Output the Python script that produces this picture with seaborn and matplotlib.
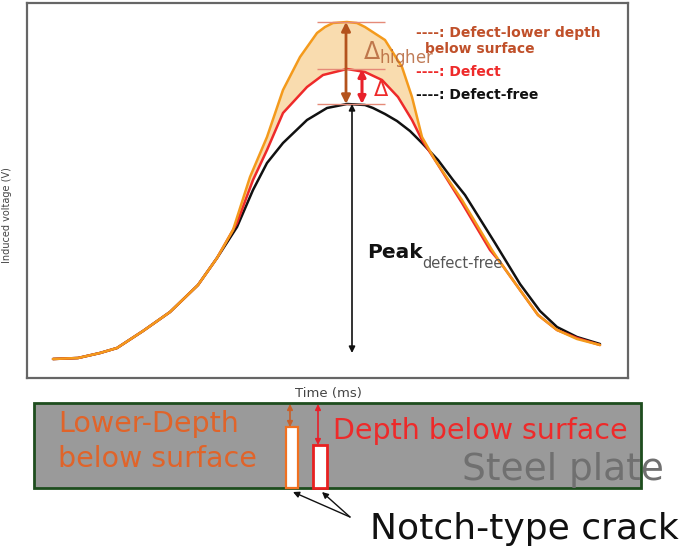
import numpy as np
import pandas as pd
import seaborn as sns
import matplotlib.pyplot as plt
from matplotlib.patches import Rectangle

# values (arbitrary units, no ticks in the original)
t_common = [26, 51, 73, 90, 116, 143, 171, 190]
v_common = [19, 20, 25, 30, 47, 66, 93, 120]

t_free = t_common + [210, 226, 240, 256, 280, 300, 320, 338, 346, 358, 370,
                     383, 395, 411, 426, 438, 468, 493, 513, 530, 550, 573]
v_free = v_common + [151, 188, 215, 235, 258, 270, 274, 273, 270, 264, 257,
                     247, 235, 218, 198, 183, 135, 94, 67, 51, 41, 34]

t_defect = t_common + [210, 226, 240, 256, 280, 296, 320, 338, 355, 371, 385,
                       395, 408, 435, 463, 473, 493, 511, 530, 550, 573]
v_defect = v_common + [155, 198, 228, 265, 291, 303, 309, 306, 298, 281, 258,
                       238, 218, 175, 128, 116, 88, 63, 48, 40, 33]

t_lower = t_common + [206, 223, 240, 256, 273, 290, 298, 306, 320, 330, 338,
                      358, 375, 385, 395, 408, 435, 465, 473, 493, 511, 530,
                      550, 573]
v_lower = v_common + [148, 201, 241, 288, 321, 345, 351, 355, 356, 355, 351,
                      338, 311, 281, 241, 218, 178, 128, 116, 88, 63, 48,
                      39, 33]

peak_t = 325
peaks = [max(v_lower), max(v_defect), max(v_free)]
cross_t = 408

df = pd.DataFrame({"t": t_free + t_defect + t_lower,
                   "v": v_free + v_defect + v_lower,
                   "kind": ["free"] * len(t_free) + ["defect"] * len(t_defect)
                   + ["lower"] * len(t_lower)})

sns.set_style("white")
plt.rcParams["font.family"] = ["DejaVu Sans"]

fig = plt.figure(figsize=(6.85, 5.51), dpi=100)
ax = fig.add_axes([27 / 685, 1 - 378 / 551, 601 / 685, 375 / 551])

# shaded band between the two defect curves, up to where they meet again
tl, vl = np.array(t_lower), np.array(v_lower)
td, vd = np.array(t_defect), np.array(v_defect)
ml, md = tl <= cross_t, td <= cross_t
ax.fill(np.r_[tl[ml], td[md][::-1]], np.r_[vl[ml], vd[md][::-1]],
        color="#f9d9a6", alpha=0.9, lw=0)

sns.lineplot(data=df, x="t", y="v", hue="kind", ax=ax, legend=False,
             palette={"free": "#111111", "defect": "#ee2a2a", "lower": "#f49a1c"},
             hue_order=["free", "defect", "lower"], lw=1.8, sort=False)

ax.set_xlim(0, 601)
ax.set_ylim(0, 375)
ax.set_xticks([])
ax.set_yticks([])
for s in ax.spines.values():
    s.set_color("#666666")
    s.set_linewidth(1.6)
ax.set_xlabel("Time (ms)", fontsize=9.5, color="#444444")
ax.xaxis.set_label_coords(301 / 601, -9 / 375)
ax.set_ylabel("Induced voltage (V)", fontsize=7, color="#444444")
ax.yaxis.set_label_coords(-15 / 601, 163 / 375)

# peak guide lines and arrows
ax.hlines(peaks, 290, 358, colors="#e58a78", lw=1)
ax.annotate("", xy=(peak_t, 25), xytext=(peak_t, peaks[2]),
            arrowprops=dict(arrowstyle="<|-|>", color="#111111", lw=1.2,
                            mutation_scale=9, shrinkA=0, shrinkB=0))
ax.annotate("", xy=(peak_t - 6, peaks[0]), xytext=(peak_t - 6, peaks[2]),
            arrowprops=dict(arrowstyle="<|-|>", color="#b4531d", lw=2,
                            mutation_scale=13, shrinkA=0, shrinkB=0))
ax.annotate("", xy=(peak_t + 10, peaks[1]), xytext=(peak_t + 10, peaks[2]),
            arrowprops=dict(arrowstyle="<|-|>", color="#e8202a", lw=2.2,
                            mutation_scale=11, shrinkA=0, shrinkB=0))
ax.text(336, 323, r"$\Delta_{\rm higher}$", fontsize=17, color="#b5653a",
        alpha=0.85, va="center")
ax.text(346, 288, r"$\Delta$", fontsize=15, color="#ee2a2a", va="center")
pk = ax.text(340, 126, "Peak", fontsize=14.5, fontweight="bold",
             color="#111111", va="center")
ax.annotate("defect-free", xy=(1, 0.3), xycoords=pk, fontsize=10.5,
            color="#555555", va="top")

# legend-like labels
ax.text(389, 345, "----: Defect-lower depth", fontsize=10, fontweight="bold",
        color="#c0502a", va="center")
ax.text(398, 329, "below surface", fontsize=10, fontweight="bold",
        color="#c0502a", va="center")
ax.text(389, 306, "----: Defect", fontsize=10, fontweight="bold",
        color="#ee2a2a", va="center")
ax.text(389, 283, "----: Defect-free", fontsize=10, fontweight="bold",
        color="#111111", va="center")

# steel plate sketch below (figure pixel units)
sk = fig.add_axes([0, 0, 1, 1], facecolor="none")
sk.set_xlim(0, 685)
sk.set_ylim(551, 0)
sk.axis("off")
sk.add_patch(Rectangle((34, 403), 607, 85, fc="#9a9a9a", ec="#1e4d1e", lw=2))
sk.add_patch(Rectangle((286, 427), 12, 61, fc="white", ec="#f07020", lw=1.6))
sk.add_patch(Rectangle((313, 445), 14, 43, fc="white", ec="#e82020", lw=2))
sk.annotate("", xy=(290, 404), xytext=(290, 427),
            arrowprops=dict(arrowstyle="<|-|>", color="#c8602a", lw=1.2,
                            mutation_scale=8, shrinkA=0, shrinkB=0))
sk.annotate("", xy=(318, 404), xytext=(318, 445),
            arrowprops=dict(arrowstyle="<|-|>", color="#e8202a", lw=1.2,
                            mutation_scale=8, shrinkA=0, shrinkB=0))
sk.text(58, 424, "Lower-Depth", fontsize=20.5, color="#e0642a", va="center")
sk.text(58, 459, "below surface", fontsize=20.5, color="#e0642a", va="center")
sk.text(333, 431, "Depth below surface", fontsize=20.5, color="#ee2a2a",
        va="center")
sk.text(462, 470, "Steel plate", fontsize=27, color="#707070", va="center")
sk.text(370, 529, "Notch-type crack", fontsize=26, color="#111111", va="center")
for x_end in (293, 322):
    sk.annotate("", xy=(x_end, 492), xytext=(350, 517),
                arrowprops=dict(arrowstyle="-|>", color="#111111", lw=1,
                                mutation_scale=9, shrinkA=0, shrinkB=0))

fig.savefig("out.png", dpi=100)
